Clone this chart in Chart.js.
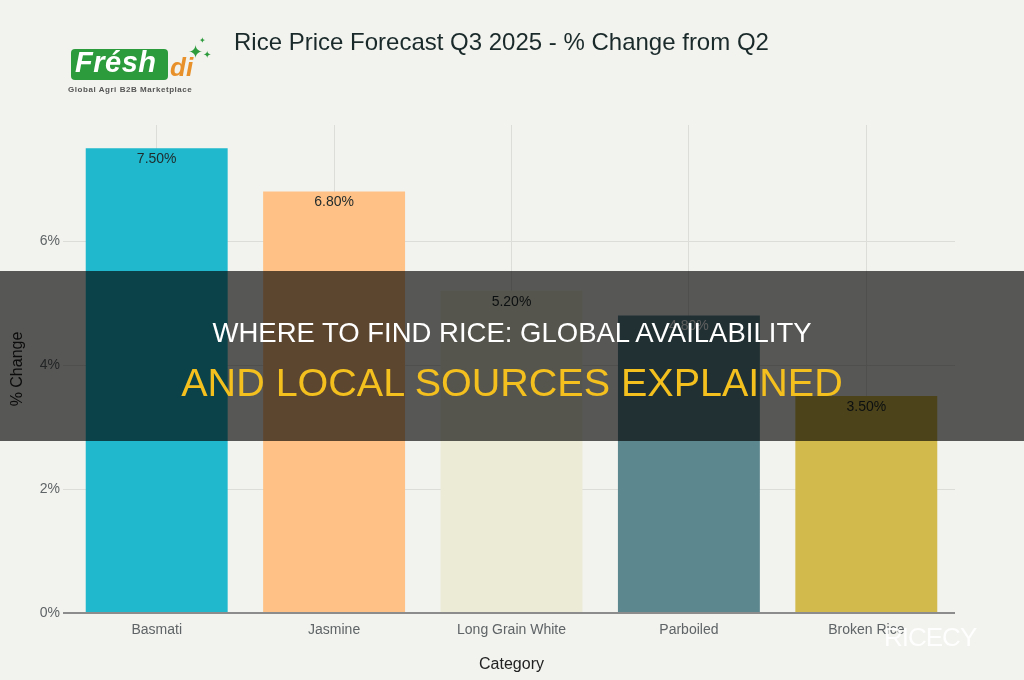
<!DOCTYPE html>
<html>
<head>
<meta charset="utf-8">
<script src="https://cdn.jsdelivr.net/npm/chart.js@4"></script>
<style>
  html, body { margin: 0; padding: 0; background: #f2f2ee; }
  body { width: 1024px; height: 680px; position: relative; overflow: hidden; font-family: "Liberation Sans", Arial, sans-serif; }
  #wrap { position: absolute; left: 0; top: 0; width: 1024px; height: 680px; }
  #titulo { position: absolute; left: 234px; top: 28px; font-size: 24px; color: #1a2a2b; white-space: nowrap; }
  #logo { position: absolute; left: 68px; top: 40px; width: 150px; height: 60px; }
  #logo .caja { position: absolute; left: 3px; top: 9px; width: 97px; height: 31px; background: #2c9b3c; border-radius: 4px; }
  #logo .fresh { position: absolute; left: 7px; top: 8px; font-size: 29px; font-weight: bold; font-style: italic; color: #fff; letter-spacing: 0.5px; line-height: 1; }
  #logo .di { position: absolute; left: 102px; top: 14px; font-size: 26px; font-weight: bold; font-style: italic; color: #e8912b; line-height: 1; }
  #logo .chispa1 { position: absolute; left: 120px; top: 1px; font-size: 18px; color: #2c9b3c; }
  #logo .chispa2 { position: absolute; left: 135px; top: 9px; font-size: 10px; color: #2c9b3c; }
  #logo .chispa3 { position: absolute; left: 131px; top: -4px; font-size: 8px; color: #2c9b3c; }
  #logo .sub { position: absolute; left: 0px; top: 45px; font-size: 8px; font-weight: bold; color: #555; letter-spacing: 0.55px; white-space: nowrap; }
  #banda { position: absolute; left: 0; top: 271px; width: 1024px; height: 170px; background: rgba(0,0,0,0.64); }
  #banda .l1 { position: absolute; left: 0; width: 1024px; top: 46px; text-align: center; color: #fff; font-size: 27.5px; white-space: nowrap; }
  #banda .l2 { position: absolute; left: 0; width: 1024px; top: 89px; text-align: center; color: #f4c01e; font-size: 39.5px; white-space: nowrap; }
  #marca { position: absolute; left: 884px; top: 622px; font-size: 26px; color: rgba(255,255,255,0.9); letter-spacing: -1px; }
</style>
</head>
<body>
<div id="wrap"><canvas id="graficaArroz" width="1024" height="680"></canvas></div>
<div id="titulo">Rice Price Forecast Q3 2025 - % Change from Q2</div>
<div id="logo">
  <div class="caja"></div>
  <div class="fresh">Frésh</div>
  <div class="di">di</div>
  <div class="chispa1">✦</div>
  <div class="chispa2">✦</div>
  <div class="chispa3">✦</div>
  <div class="sub">Global Agri B2B Marketplace</div>
</div>
<div id="banda">
  <div class="l1">WHERE TO FIND RICE: GLOBAL AVAILABILITY</div>
  <div class="l2">AND LOCAL SOURCES EXPLAINED</div>
</div>
<div id="marca">RICECY</div>

<script>
// Datos
const categorias = ['Basmati', 'Jasmine', 'Long Grain White', 'Parboiled', 'Broken Rice'];
const cambios = [7.5, 6.8, 5.2, 4.8, 3.5];
const colores = ['#1FB8CD', '#FFC185', '#ECEBD5', '#5D878F', '#D2BA4C'];
const coloresTexto = ['#1f2a2b', '#1f2a2b', '#1f2a2b', '#ffffff', '#1f2a2b'];
const marcasY = [0, 2, 4, 6];

Chart.defaults.font.family = '"Liberation Sans", Arial, sans-serif';

// Etiquetas de valor dentro de la barra
const etiquetasBarras = {
    id: 'etiquetasBarras',
    afterDatasetsDraw(chart) {
        const ctx = chart.ctx;
        const meta = chart.getDatasetMeta(0);
        ctx.save();
        ctx.font = '14px "Liberation Sans", Arial, sans-serif';
        ctx.textAlign = 'center';
        ctx.textBaseline = 'middle';
        meta.data.forEach((barra, i) => {
            ctx.fillStyle = coloresTexto[i];
            ctx.fillText(cambios[i].toFixed(2) + '%', barra.x, barra.y + 11);
        });
        ctx.restore();
    }
};

const ctxArroz = document.getElementById('graficaArroz').getContext('2d');
new Chart(ctxArroz, {
    type: 'bar',
    data: {
        labels: categorias,
        datasets: [{
            label: '% Change', data: cambios,
            backgroundColor: colores,
            borderWidth: 0,
            categoryPercentage: 1.0, barPercentage: 0.8
        }]
    },
    options: {
        responsive: false, animation: false,
        layout: { padding: { top: 125, right: 69, left: 0, bottom: 0 } },
        plugins: { legend: { display: false }, tooltip: { enabled: false } },
        scales: {
            x: {
                afterFit: (axis) => { axis.height = 67; },
                grid: { display: true, offset: false, color: '#dcdcd8', drawTicks: false },
                border: { display: false },
                ticks: { color: '#5f6466', font: { size: 14 }, padding: 9 },
                title: { display: true, text: 'Category', color: '#222', font: { size: 16 }, padding: { top: 0, bottom: 6 } }
            },
            y: {
                min: 0, max: 7.875,
                afterFit: (axis) => { axis.width = 68; },
                afterBuildTicks: (axis) => { axis.ticks = marcasY.map(v => ({ value: v })); },
                grid: {
                    color: (c) => c.tick && c.tick.value === 0 ? '#8c8c8c' : '#dcdcd8',
                    lineWidth: (c) => c.tick && c.tick.value === 0 ? 2 : 1,
                    tickLength: 5
                },
                border: { display: false },
                ticks: { color: '#5f6466', font: { size: 14 }, padding: 3, callback: (v) => v + '%' },
                title: { display: true, text: '% Change', color: '#222', font: { size: 16 }, padding: { top: 8, bottom: 4 } }
            }
        }
    },
    plugins: [etiquetasBarras]
});
</script>
</body>
</html>
